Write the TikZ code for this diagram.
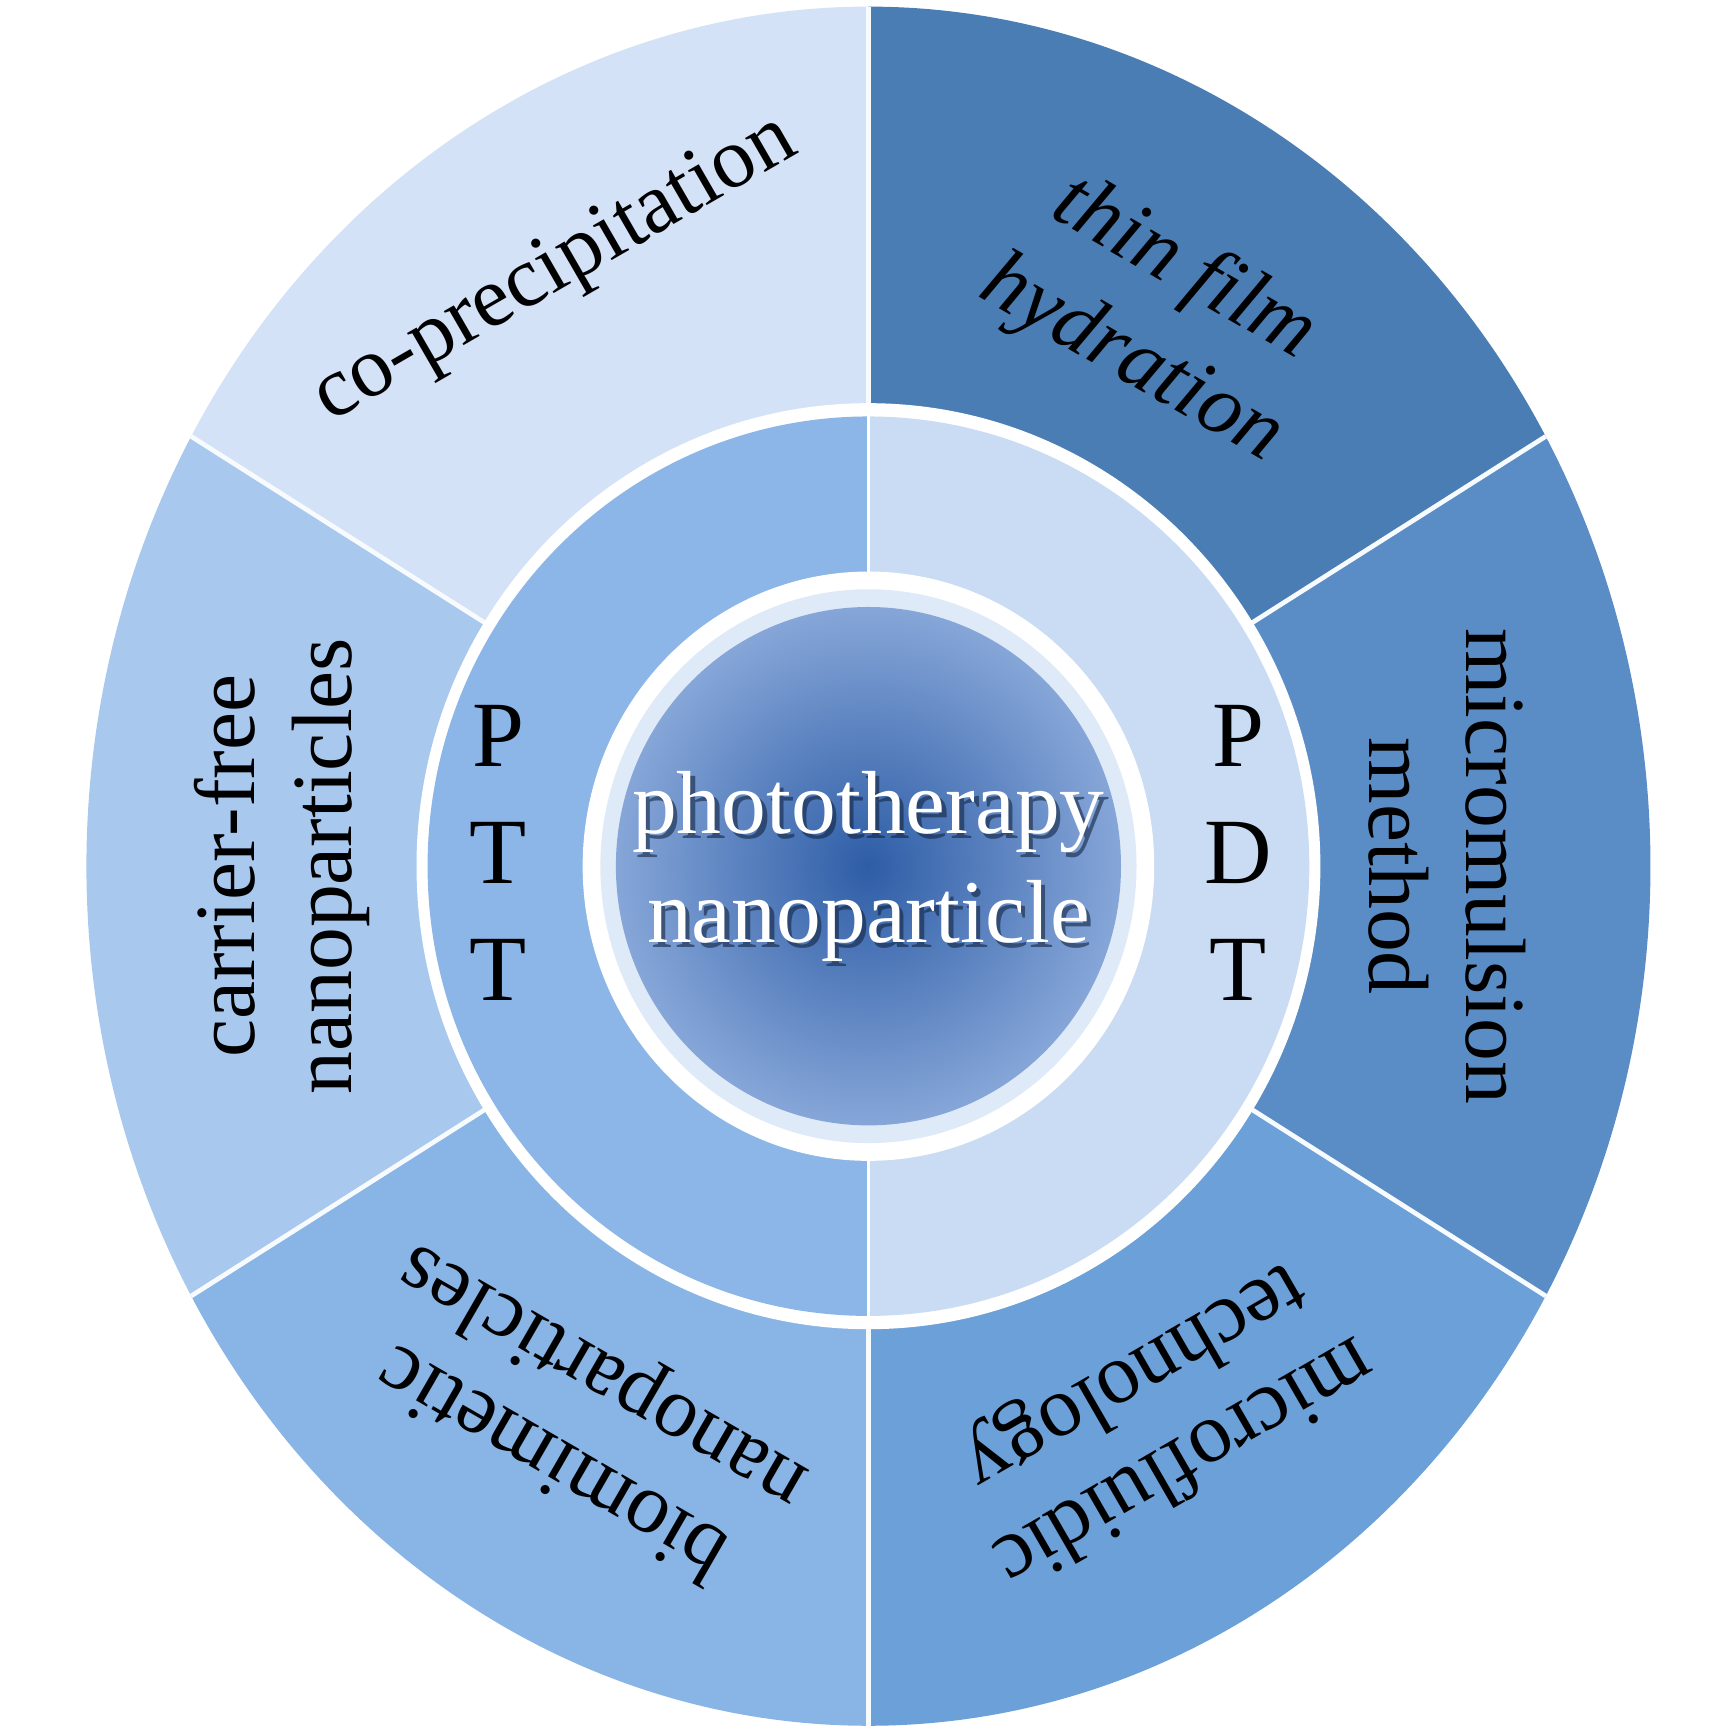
\documentclass[tikz,border=0pt]{standalone}
\usepackage{fontspec}
\setmainfont{Liberation Serif}
\begin{document}
\begin{tikzpicture}
\useasboundingbox (0,0) rectangle (15.6,15.6);
\def\rx{7.06}\def\ry{7.76}
\definecolor{cA}{HTML}{D3E2F6}
\definecolor{cB}{HTML}{4A7DB4}
\definecolor{cC}{HTML}{5A8DC6}
\definecolor{cD}{HTML}{6CA0D8}
\definecolor{cE}{HTML}{88B5E6}
\definecolor{cF}{HTML}{A8C8EE}
\definecolor{cPTT}{HTML}{8BB6E7}
\definecolor{cPDT}{HTML}{C9DCF4}
\definecolor{cIn}{HTML}{2E5DA6}
\definecolor{cOut}{HTML}{86A6D8}
\tikzset{lab/.style={font=\fontsize{22}{25}\selectfont, align=center, text=black},
sep/.style={draw=white!85!cA, line width=1.2pt},
ctext/.style={font=\fontsize{23}{28}\selectfont, align=center}}
\begin{scope}[shift={(7.84,7.78)}]
\foreach \a/\c in {90/cA,30/cB,-30/cC,-90/cD,-150/cE,150/cF}{
  \fill[\c] (0,0) -- ({\rx*cos(\a)},{\ry*sin(\a)}) arc[start angle=\a, delta angle=60, x radius=\rx, y radius=\ry] -- cycle;
}
\foreach \a in {90,30,-30,-90,-150,150}{
  \draw[sep] (0,0) -- ({\rx*cos(\a)},{\ry*sin(\a)});
}
\fill[white] (0,0) ellipse[x radius=4.08, y radius=4.18];
\fill[cPTT] (0,-4.06) arc[start angle=-90, end angle=-270, x radius=3.98, y radius=4.06] -- cycle;
\fill[cPDT] (0,4.06) arc[start angle=90, end angle=-90, x radius=3.98, y radius=4.06] -- cycle;
\draw[white, line width=1pt] (0,4.06) -- (0,-4.06);
\fill[white] (0,0) ellipse[x radius=2.58, y radius=2.66];
\fill[cPDT!60] (0,0) ellipse[x radius=2.42, y radius=2.50];
\shade[inner color=cIn, outer color=cOut] (0,0) ellipse[x radius=2.28, y radius=2.34];
\node[ctext, text=black!60!cIn, opacity=0.6] at (0.04,-0.05) {phototherapy\\nanoparticle};
\node[ctext, text=white] (c) at (0,0) {phototherapy\\nanoparticle};
\node[font=\fontsize{24}{30}\selectfont, align=center] (ptt) at (-3.34,0.12) {P\\T\\T};
\node[font=\fontsize{24}{30}\selectfont, align=center] (pdt) at (3.34,0.12) {P\\D\\T};
\node[lab, rotate=30] (s1) at ({0.80*\rx*cos(120)},{0.80*\ry*sin(120)}) {co-precipitation};
\node[lab, rotate=-30, font=\fontsize{22}{27}\itshape] (s2) at ({0.74*\rx*cos(60)},{0.74*\ry*sin(60)}) {thin film\\hydration};
\node[lab, rotate=-90] (s3) at ({0.74*\rx},0) {micromulsion\\method};
\node[lab, rotate=-150] (s4) at ({0.74*\rx*cos(-60)},{0.74*\ry*sin(-60)}) {microfluidic\\technology};
\node[lab, rotate=150] (s5) at ({0.74*\rx*cos(-120)},{0.74*\ry*sin(-120)}) {biomimetic\\nanoparticles};
\node[lab, rotate=90] (s6) at ({-0.75*\rx},0) {carrier-free\\nanoparticles};
\end{scope}
\end{tikzpicture}
\end{document}
